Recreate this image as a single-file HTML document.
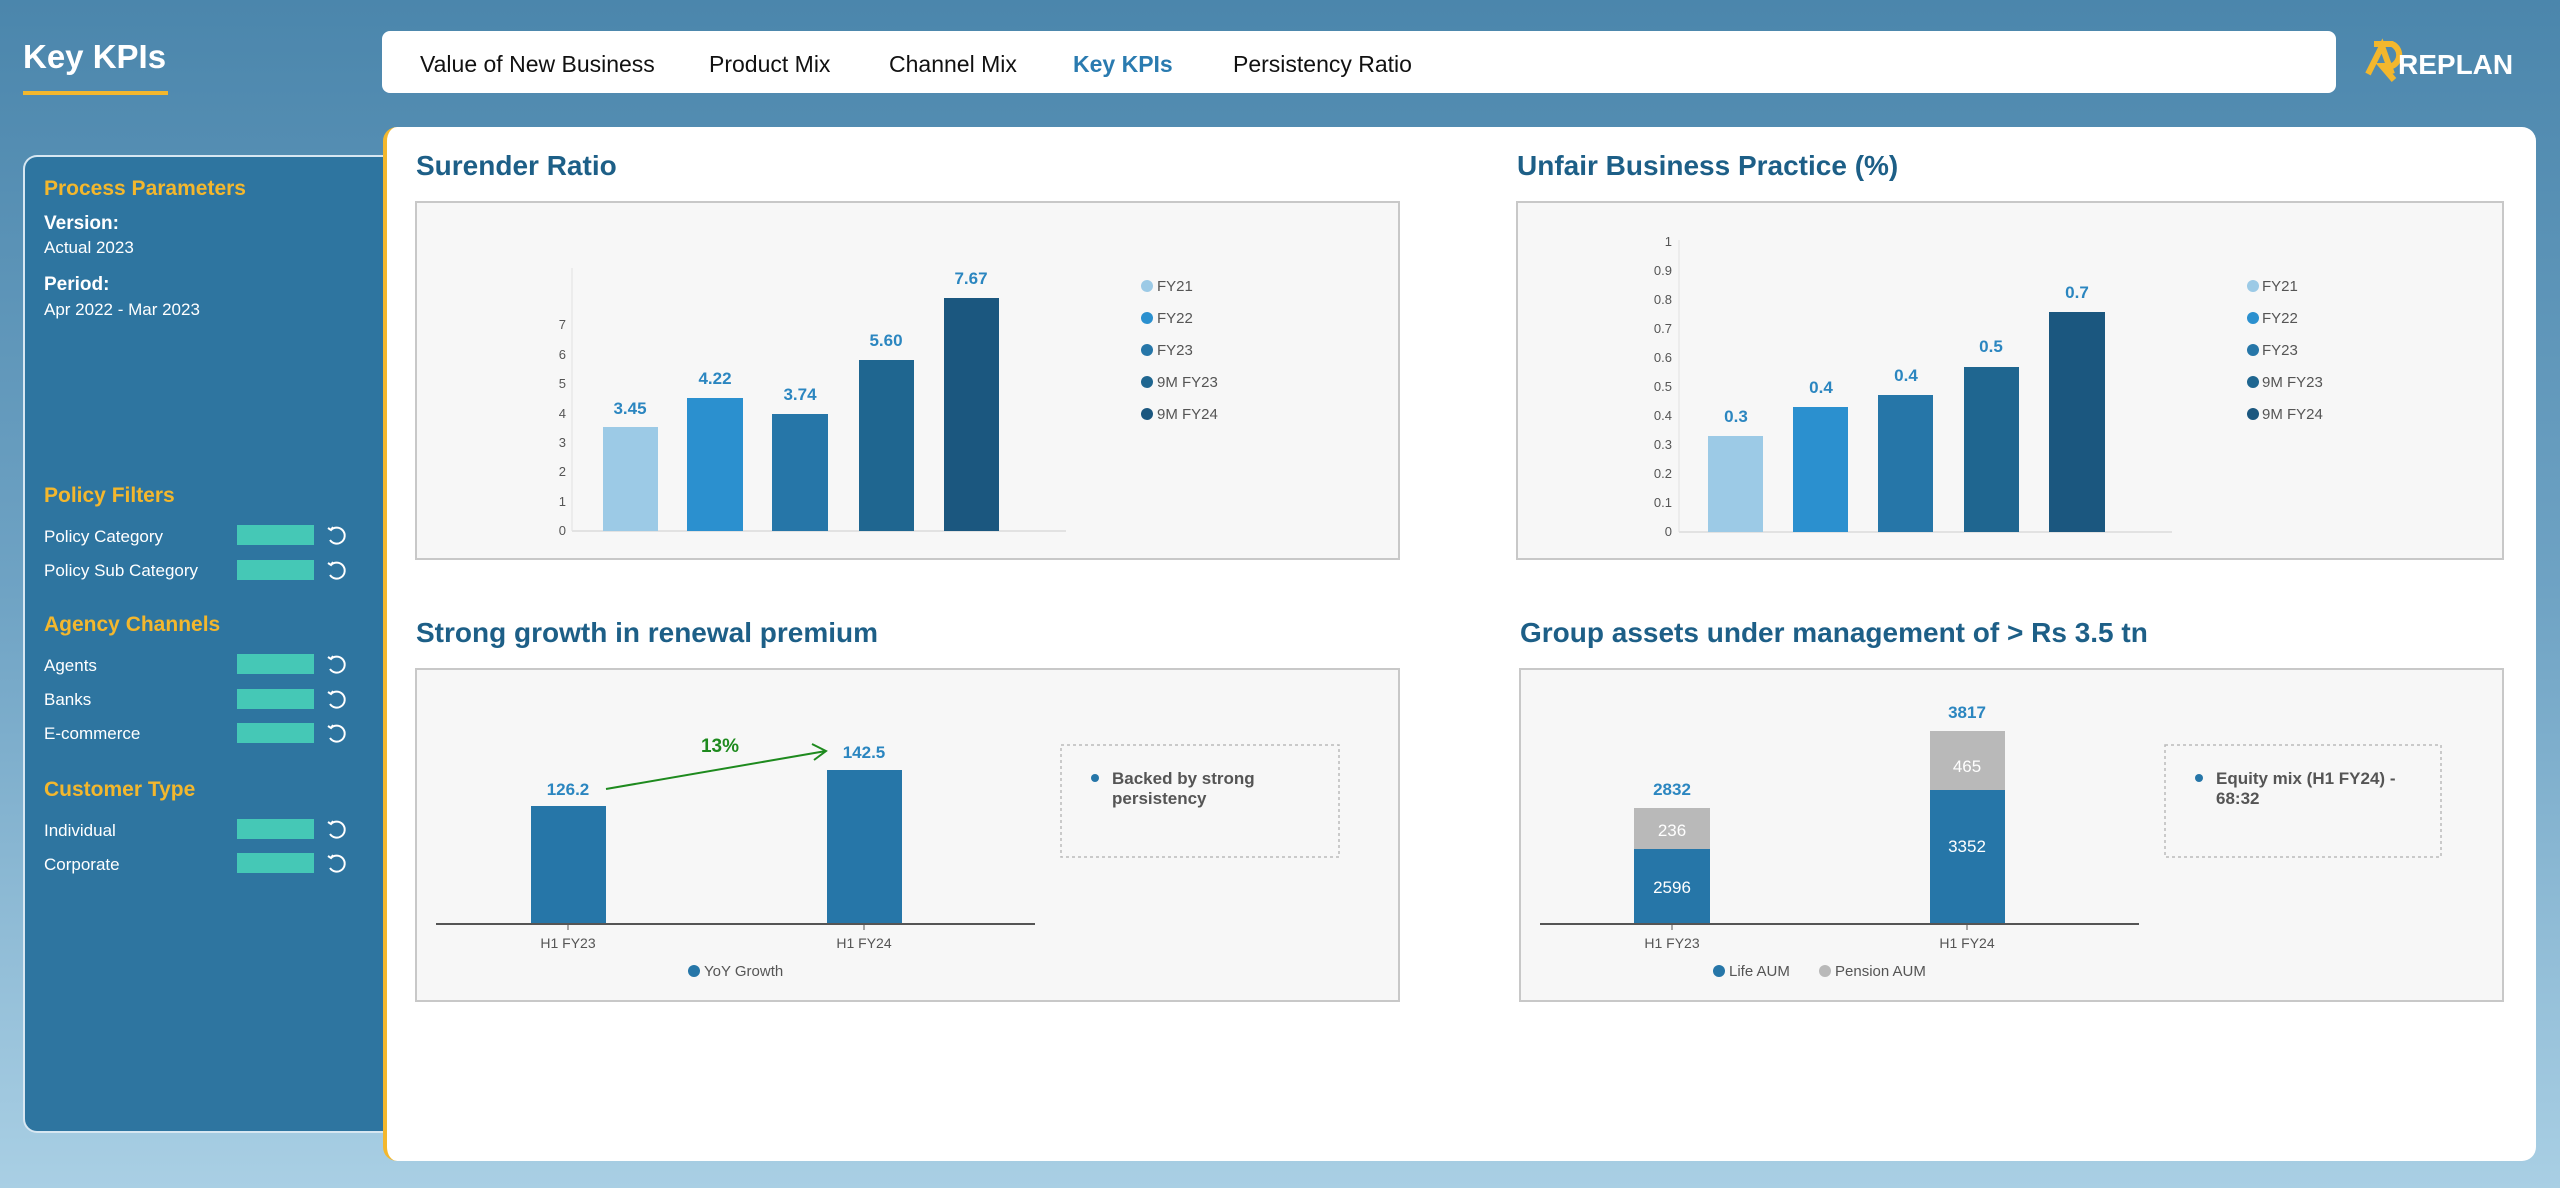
<!DOCTYPE html>
<html><head><meta charset="utf-8"><style>
*{margin:0;padding:0;box-sizing:border-box}
body{width:2560px;height:1188px;overflow:hidden;font-family:"Liberation Sans",sans-serif;background:linear-gradient(180deg,#4b86ac 0%,#6fa3c4 50%,#a9cfe4 100%);position:relative}
.abs{position:absolute}
</style></head><body>
<div class="abs" style="left:23px;top:38px;font-size:33px;font-weight:bold;color:#fff">Key KPIs</div>
<div class="abs" style="left:23px;top:91px;width:145px;height:4px;background:#f3b72d"></div>
<div class="abs" style="left:382px;top:31px;width:1954px;height:62px;background:#fff;border-radius:8px"></div>
<div class="abs" style="left:23px;top:155px;width:370px;height:978px;background:#2e75a0;border-radius:14px 0 0 14px;border-top:2px solid #d7e7f2;border-left:2px solid #d7e7f2;border-bottom:2px solid #d7e7f2"></div>
<div class="abs" style="left:383px;top:127px;width:2153px;height:1034px;background:#fff;border-radius:14px;border-left:4px solid #f3b72d"></div>
<svg class="abs" style="left:0;top:0" width="2560" height="1188" font-family="Liberation Sans, sans-serif">
<g font-size="23" fill="#111">
<text x="420" y="72">Value of New Business</text>
<text x="709" y="72">Product Mix</text>
<text x="889" y="72">Channel Mix</text>
<text x="1073" y="72" fill="#2a7bb0" font-weight="bold">Key KPIs</text>
<text x="1233" y="72">Persistency Ratio</text>
</g>
<g stroke="#f3b72d" stroke-width="6" fill="none"><path d="M2368 74 L2382 46 L2392 74"/><path d="M2374 44 H2392 A12 12 0 0 1 2392 66 H2382 L2394 80"/></g>
<text x="2398" y="74" font-size="28" font-weight="bold" fill="#fff">REPLAN</text>
<g fill="#fff" font-size="17">
<text x="44" y="195" font-size="21" font-weight="bold" fill="#f3b72d">Process Parameters</text>
<text x="44" y="229" font-weight="bold" font-size="19">Version:</text>
<text x="44" y="253">Actual 2023</text>
<text x="44" y="290" font-weight="bold" font-size="19">Period:</text>
<text x="44" y="315">Apr 2022 - Mar 2023</text>
<text x="44" y="502" font-size="21" font-weight="bold" fill="#f3b72d">Policy Filters</text>
<text x="44" y="542">Policy Category</text>
<text x="44" y="576">Policy Sub Category</text>
<text x="44" y="631" font-size="21" font-weight="bold" fill="#f3b72d">Agency Channels</text>
<text x="44" y="671">Agents</text>
<text x="44" y="705">Banks</text>
<text x="44" y="739">E-commerce</text>
<text x="44" y="796" font-size="21" font-weight="bold" fill="#f3b72d">Customer Type</text>
<text x="44" y="836">Individual</text>
<text x="44" y="870">Corporate</text>
</g>
<g fill="#45c8b6">
<rect x="237" y="525" width="77" height="20"/><rect x="237" y="560" width="77" height="20"/>
<rect x="237" y="654" width="77" height="20"/><rect x="237" y="689" width="77" height="20"/><rect x="237" y="723" width="77" height="20"/>
<rect x="237" y="819" width="77" height="20"/><rect x="237" y="853" width="77" height="20"/>
</g>
<g fill="none" stroke="#fff" stroke-width="2" transform="translate(-3,0)">
<path d="M334 530 A8 8 0 1 1 333 540 M331 528 L334 530 L336 527"/>
<path d="M334 565 A8 8 0 1 1 333 575 M331 563 L334 565 L336 562"/>
<path d="M334 659 A8 8 0 1 1 333 669 M331 657 L334 659 L336 656"/>
<path d="M334 694 A8 8 0 1 1 333 704 M331 692 L334 694 L336 691"/>
<path d="M334 728 A8 8 0 1 1 333 738 M331 726 L334 728 L336 725"/>
<path d="M334 824 A8 8 0 1 1 333 834 M331 822 L334 824 L336 821"/>
<path d="M334 858 A8 8 0 1 1 333 868 M331 856 L334 858 L336 855"/>
</g>
<g font-size="28" font-weight="bold" fill="#1d5f87">
<text x="416" y="175">Surender Ratio</text>
<text x="1517" y="175">Unfair Business Practice (%)</text>
<text x="416" y="642">Strong growth in renewal premium</text>
<text x="1520" y="642">Group assets under management of &gt; Rs 3.5 tn</text>
</g>
<g fill="#f7f7f7" stroke="#c8c8c8" stroke-width="2">
<rect x="416" y="202" width="983" height="357"/><rect x="1517" y="202" width="986" height="357"/>
<rect x="416" y="669" width="983" height="332"/><rect x="1520" y="669" width="983" height="332"/>
</g>
<line x1="572" y1="268" x2="572" y2="531" stroke="#e2e2e2"/>
<line x1="572" y1="531" x2="1066" y2="531" stroke="#e2e2e2" stroke-width="2"/>
<g font-size="13" fill="#555" text-anchor="end">
<text x="566" y="535">0</text><text x="566" y="506">1</text><text x="566" y="476">2</text><text x="566" y="447">3</text><text x="566" y="418">4</text><text x="566" y="388">5</text><text x="566" y="359">6</text><text x="566" y="329">7</text>
</g>
<rect x="603" y="427" width="55" height="104" fill="#9ccae6"/>
<rect x="687" y="398" width="56" height="133" fill="#2b90cf"/>
<rect x="772" y="414" width="56" height="117" fill="#2676a8"/>
<rect x="859" y="360" width="55" height="171" fill="#1f6690"/>
<rect x="944" y="298" width="55" height="233" fill="#1b577f"/>
<g font-size="17" font-weight="bold" fill="#2b86c0" text-anchor="middle">
<text x="630" y="414">3.45</text><text x="715" y="384">4.22</text><text x="800" y="400">3.74</text><text x="886" y="346">5.60</text><text x="971" y="284">7.67</text>
</g>
<g font-size="15" fill="#555">
<circle cx="1147" cy="286" r="6" fill="#9ccae6"/><text x="1157" y="291">FY21</text>
<circle cx="1147" cy="318" r="6" fill="#2b90cf"/><text x="1157" y="323">FY22</text>
<circle cx="1147" cy="350" r="6" fill="#2676a8"/><text x="1157" y="355">FY23</text>
<circle cx="1147" cy="382" r="6" fill="#1f6690"/><text x="1157" y="387">9M FY23</text>
<circle cx="1147" cy="414" r="6" fill="#1b577f"/><text x="1157" y="419">9M FY24</text>
</g>
<line x1="1679" y1="240" x2="1679" y2="532" stroke="#e2e2e2"/>
<line x1="1679" y1="532" x2="2172" y2="532" stroke="#e2e2e2" stroke-width="2"/>
<g font-size="13" fill="#555" text-anchor="end">
<text x="1672" y="536">0</text><text x="1672" y="507">0.1</text><text x="1672" y="478">0.2</text><text x="1672" y="449">0.3</text><text x="1672" y="420">0.4</text><text x="1672" y="391">0.5</text><text x="1672" y="362">0.6</text><text x="1672" y="333">0.7</text><text x="1672" y="304">0.8</text><text x="1672" y="275">0.9</text><text x="1672" y="246">1</text>
</g>
<rect x="1708" y="436" width="55" height="96" fill="#9ccae6"/>
<rect x="1793" y="407" width="55" height="125" fill="#2b90cf"/>
<rect x="1878" y="395" width="55" height="137" fill="#2676a8"/>
<rect x="1964" y="367" width="55" height="165" fill="#1f6690"/>
<rect x="2049" y="312" width="56" height="220" fill="#1b577f"/>
<g font-size="17" font-weight="bold" fill="#2b86c0" text-anchor="middle">
<text x="1736" y="422">0.3</text><text x="1821" y="393">0.4</text><text x="1906" y="381">0.4</text><text x="1991" y="352">0.5</text><text x="2077" y="298">0.7</text>
</g>
<g font-size="15" fill="#555">
<circle cx="2253" cy="286" r="6" fill="#9ccae6"/><text x="2262" y="291">FY21</text>
<circle cx="2253" cy="318" r="6" fill="#2b90cf"/><text x="2262" y="323">FY22</text>
<circle cx="2253" cy="350" r="6" fill="#2676a8"/><text x="2262" y="355">FY23</text>
<circle cx="2253" cy="382" r="6" fill="#1f6690"/><text x="2262" y="387">9M FY23</text>
<circle cx="2253" cy="414" r="6" fill="#1b577f"/><text x="2262" y="419">9M FY24</text>
</g>
<rect x="531" y="806" width="75" height="118" fill="#2676a8"/>
<rect x="827" y="770" width="75" height="154" fill="#2676a8"/>
<line x1="436" y1="924" x2="1035" y2="924" stroke="#555" stroke-width="2"/>
<line x1="568" y1="924" x2="568" y2="930" stroke="#555"/><line x1="864" y1="924" x2="864" y2="930" stroke="#555"/>
<g font-size="17" font-weight="bold" fill="#2b86c0" text-anchor="middle"><text x="568" y="795">126.2</text><text x="864" y="758">142.5</text></g>
<line x1="606" y1="789" x2="826" y2="751" stroke="#1e8a1e" stroke-width="2"/>
<path d="M812 744 L826 751 L814 760" fill="none" stroke="#1e8a1e" stroke-width="2"/>
<text x="720" y="752" font-size="19" font-weight="bold" fill="#1e8a1e" text-anchor="middle">13%</text>
<g font-size="14" fill="#555" text-anchor="middle"><text x="568" y="948">H1 FY23</text><text x="864" y="948">H1 FY24</text></g>
<circle cx="694" cy="971" r="6" fill="#2676a8"/><text x="704" y="976" font-size="15" fill="#555">YoY Growth</text>
<rect x="1061" y="745" width="278" height="112" fill="none" stroke="#bbb" stroke-dasharray="3,3" stroke-width="1.5"/>
<circle cx="1095" cy="778" r="4" fill="#2676a8"/>
<g font-size="17" font-weight="bold" fill="#555"><text x="1112" y="784">Backed by strong</text><text x="1112" y="804">persistency</text></g>
<rect x="1634" y="849" width="76" height="75" fill="#2676a8"/><rect x="1634" y="808" width="76" height="41" fill="#b9b9b9"/>
<rect x="1930" y="790" width="75" height="134" fill="#2676a8"/><rect x="1930" y="731" width="75" height="59" fill="#b9b9b9"/>
<line x1="1540" y1="924" x2="2139" y2="924" stroke="#555" stroke-width="2"/>
<line x1="1672" y1="924" x2="1672" y2="930" stroke="#555"/><line x1="1967" y1="924" x2="1967" y2="930" stroke="#555"/>
<g font-size="17" font-weight="bold" fill="#2b86c0" text-anchor="middle"><text x="1672" y="795">2832</text><text x="1967" y="718">3817</text></g>
<g font-size="17" fill="#fff" text-anchor="middle"><text x="1672" y="836">236</text><text x="1672" y="893">2596</text><text x="1967" y="772">465</text><text x="1967" y="852">3352</text></g>
<g font-size="14" fill="#555" text-anchor="middle"><text x="1672" y="948">H1 FY23</text><text x="1967" y="948">H1 FY24</text></g>
<circle cx="1719" cy="971" r="6" fill="#2676a8"/><text x="1729" y="976" font-size="15" fill="#555">Life AUM</text>
<circle cx="1825" cy="971" r="6" fill="#b9b9b9"/><text x="1835" y="976" font-size="15" fill="#555">Pension AUM</text>
<rect x="2165" y="745" width="276" height="112" fill="none" stroke="#bbb" stroke-dasharray="3,3" stroke-width="1.5"/>
<circle cx="2199" cy="778" r="4" fill="#2676a8"/>
<g font-size="17" font-weight="bold" fill="#555"><text x="2216" y="784">Equity mix (H1 FY24) -</text><text x="2216" y="804">68:32</text></g>
</svg>
</body></html>
